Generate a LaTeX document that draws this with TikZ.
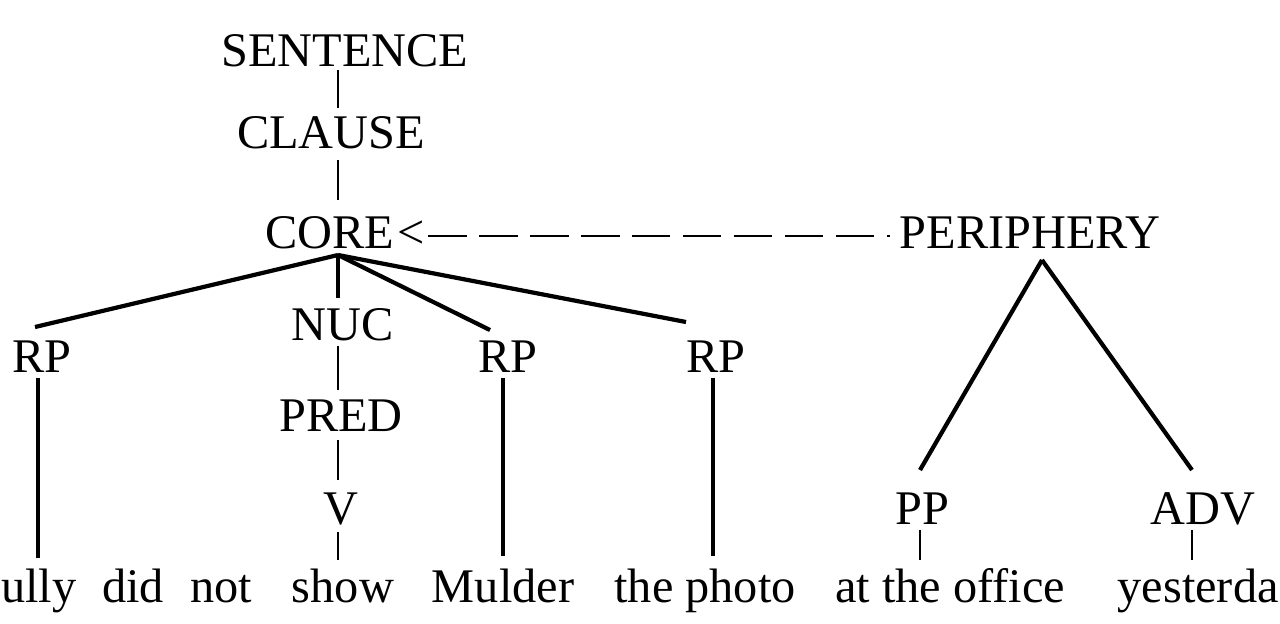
\documentclass[tikz,border=0pt]{standalone}
\usepackage{fontspec}
\setmainfont{Liberation Serif}
\begin{document}
\begin{tikzpicture}[x=0.02cm,y=-0.02cm,
  lab/.style={font=\fontsize{27.5}{32}\selectfont,inner sep=0pt,anchor=base},
  br/.style={line width=2.4pt},
  vt/.style={line width=1.6pt}]
\useasboundingbox (0,0) rectangle (1280,623);
\clip (0,0) rectangle (1280,623);
\node[lab] (sent) at (345,66) {SENTENCE};
\node[lab] (clause) at (331,148) {CLAUSE};
\node[lab] (core) at (330,248) {CORE};
\node[lab] (lt) at (411,248) {<};
\node[lab] (peri) at (1030,248) {PERIPHERY};
\node[lab] (nuc) at (343,340) {NUC};
\node[lab] (rp1) at (42,372) {RP};
\node[lab] (rp2) at (508,372) {RP};
\node[lab] (rp3) at (716,372) {RP};
\node[lab] (pred) at (341,431) {PRED};
\node[lab] (v) at (341,524) {V};
\node[lab] (pp) at (922,524) {PP};
\node[lab] (adv) at (1203,524) {ADV};
\node[lab,anchor=base west] (w1) at (1,602) {ully};
\node[lab] (w2) at (133,602) {did};
\node[lab] (w3) at (221,602) {not};
\node[lab] (w4) at (343,602) {show};
\node[lab] (w5) at (503,602) {Mulder};
\node[lab] (w6) at (705,602) {the photo};
\node[lab] (w7) at (950,602) {at the office};
\node[lab,anchor=base east] (w8) at (1279,602) {yesterda};
\coordinate (cb) at (338,255);
\coordinate (pb) at (1042,260);
\draw[vt] (338,70) -- (338,108);
\draw[vt] (338,160) -- (338,200);
\draw[br] (cb) -- (35,327);
\draw[br] (cb) -- (338,298);
\draw[br] (cb) -- (490,330);
\draw[br] (cb) -- (686,322);
\draw[vt] (338,346) -- (338,390);
\draw[vt] (338,440) -- (338,480);
\draw[vt] (338,532) -- (338,560);
\draw[br] (38,378) -- (38,558);
\draw[br] (503,378) -- (503,556);
\draw[br] (713,378) -- (713,556);
\draw[br] (pb) -- (920,470);
\draw[br] (pb) -- (1192,470);
\draw[vt] (920,530) -- (920,560);
\draw[vt] (1192,530) -- (1192,560);
\draw[line width=1.6pt,dash pattern=on 22pt off 7pt] (428,236) -- (890,236);
\end{tikzpicture}
\end{document}
